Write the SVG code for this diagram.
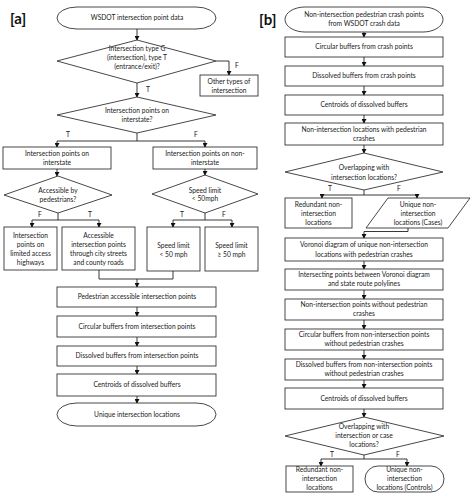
<svg xmlns="http://www.w3.org/2000/svg" width="474" height="495" viewBox="0 0 474 495">
<defs>
<marker id="ah" markerWidth="5" markerHeight="5" refX="4" refY="2.5" orient="auto" markerUnits="userSpaceOnUse">
<path d="M0,0 L4.5,2.5 L0,5 z" fill="#111"/>
</marker>
<style>
.n{fill:#fff;stroke:#333;stroke-width:0.9}
.t{font-family:Lato,"Open Sans","Liberation Sans",sans-serif;font-size:6.7px;fill:#222;text-anchor:middle}
.lb{font-family:Lato,"Open Sans","Liberation Sans",sans-serif;font-size:6.7px;fill:#222;text-anchor:middle}
.h{font-family:Lato,"Liberation Sans",sans-serif;font-size:15px;font-weight:bold;fill:#111}
.c{fill:none;stroke:#222;stroke-width:0.9}
.a{fill:none;stroke:#222;stroke-width:0.9;marker-end:url(#ah)}
</style>
</defs>
<rect width="474" height="495" fill="#fff"/>
<text class="h" x="10" y="24">[a]</text>
<text class="h" x="259" y="25">[b]</text>

<!-- Panel a nodes -->
<g id="a_start"><rect class="n" x="57" y="7" width="159" height="22" rx="20" ry="11"/><text class="t" x="137" y="20.3">WSDOT intersection point data</text></g>
<g id="a_d1"><polygon class="n" points="137,40 216,61 137,83 57,61"/><text class="t" x="137" y="51">Intersection type G</text><text class="t" x="137" y="60">(intersection), type T</text><text class="t" x="137" y="69">(entrance/exit)?</text></g>
<g id="a_other"><rect class="n" x="200" y="75" width="58" height="21"/><text class="t" x="229" y="84.3">Other types of</text><text class="t" x="229" y="92.8">intersection</text></g>
<g id="a_d2"><polygon class="n" points="137,97 216,115 137,133 57,115"/><text class="t" x="137" y="113.3">Intersection points on</text><text class="t" x="137" y="122.3">interstate?</text></g>
<g id="a_inter"><rect class="n" x="3" y="147" width="108" height="22"/><text class="t" x="57" y="155.8">Intersection points on</text><text class="t" x="57" y="164.8">interstate</text></g>
<g id="a_noninter"><rect class="n" x="153" y="147" width="104" height="22"/><text class="t" x="205" y="155.8">Intersection points on non-</text><text class="t" x="205" y="164.8">interstate</text></g>
<g id="a_d3"><polygon class="n" points="58,176 112,195 58,213 4,195"/><text class="t" x="58" y="193.3">Accessible by</text><text class="t" x="58" y="202.3">pedestrians?</text></g>
<g id="a_d4"><polygon class="n" points="205,175 258,194 205,213 152,194"/><text class="t" x="205" y="192.8">Speed limit</text><text class="t" x="205" y="201.3">&lt; 50mph</text></g>
<g id="a_limited"><rect class="n" x="4" y="227" width="53" height="43"/><text class="t" x="30.5" y="238.3">Intersection</text><text class="t" x="30.5" y="247.3">points on</text><text class="t" x="30.5" y="256.3">limited access</text><text class="t" x="30.5" y="265.3">highways</text></g>
<g id="a_access"><rect class="n" x="62" y="227" width="73" height="43"/><text class="t" x="98.5" y="238.3">Accessible</text><text class="t" x="98.5" y="247.3">intersection points</text><text class="t" x="98.5" y="256.3">through city streets</text><text class="t" x="98.5" y="265.3">and county roads</text></g>
<g id="a_sl_lt"><rect class="n" x="147" y="227" width="53" height="44"/><text class="t" x="173.5" y="247.8">Speed limit</text><text class="t" x="173.5" y="256.8">&lt; 50 mph</text></g>
<g id="a_sl_ge"><rect class="n" x="205" y="227" width="53" height="44"/><text class="t" x="231.5" y="247.8">Speed limit</text><text class="t" x="231.5" y="256.8">≥ 50 mph</text></g>
<g id="a_ped"><rect class="n" x="57" y="287" width="159" height="20"/><text class="t" x="137" y="299.3">Pedestrian accessible intersection points</text></g>
<g id="a_circ"><rect class="n" x="57" y="316" width="159" height="21"/><text class="t" x="137" y="328.8">Circular buffers from intersection points</text></g>
<g id="a_diss"><rect class="n" x="57" y="346" width="159" height="20"/><text class="t" x="137" y="358.3">Dissolved buffers from intersection points</text></g>
<g id="a_cent"><rect class="n" x="57" y="374" width="159" height="22"/><text class="t" x="137" y="387.3">Centroids of dissolved buffers</text></g>
<g id="a_end"><rect class="n" x="57" y="403" width="159" height="23" rx="20" ry="11.5"/><text class="t" x="137" y="416.8">Unique intersection locations</text></g>

<!-- Panel b nodes -->
<g id="b_start"><rect class="n" x="285" y="7" width="158" height="25" rx="20" ry="12.5"/><text class="t" x="364" y="16.5">Non-intersection pedestrian crash points</text><text class="t" x="364" y="25.5">from WSDOT crash data</text></g>
<g id="b_circ"><rect class="n" x="285" y="37" width="158" height="20"/><text class="t" x="364" y="49.3">Circular buffers from crash points</text></g>
<g id="b_diss"><rect class="n" x="285" y="66" width="158" height="20"/><text class="t" x="364" y="78.3">Dissolved buffers from crash points</text></g>
<g id="b_cent"><rect class="n" x="285" y="95" width="158" height="20"/><text class="t" x="364" y="107.3">Centroids of dissolved buffers</text></g>
<g id="b_nonint"><rect class="n" x="285" y="123" width="158" height="22"/><text class="t" x="364" y="132.3">Non-intersection locations with pedestrian</text><text class="t" x="364" y="141.3">crashes</text></g>
<g id="b_d1"><polygon class="n" points="364,153 443,172 364,190 285,172"/><text class="t" x="364" y="170">Overlapping with</text><text class="t" x="364" y="179.5">intersection locations?</text></g>
<g id="b_red1"><rect class="n" x="285" y="198" width="67" height="30"/><text class="t" x="318.5" y="207.3">Redundant non-</text><text class="t" x="318.5" y="216.3">intersection</text><text class="t" x="318.5" y="225.3">locations</text></g>
<g id="b_cases"><polygon class="n" points="388,198 470,198 448,228 366,228"/><text class="t" x="418" y="207.3">Unique non-</text><text class="t" x="418" y="216.3">intersection</text><text class="t" x="418" y="225.3">locations (Cases)</text></g>
<g id="b_voronoi"><rect class="n" x="285" y="238" width="158" height="23"/><text class="t" x="364" y="247.3">Voronoi diagram of unique non-intersection</text><text class="t" x="364" y="256.8">locations with pedestrian crashes</text></g>
<g id="b_isect"><rect class="n" x="285" y="269" width="158" height="21"/><text class="t" x="364" y="276.8">Intersecting points between Voronoi diagram</text><text class="t" x="364" y="285.8">and state route polylines</text></g>
<g id="b_nonped"><rect class="n" x="285" y="299" width="158" height="21"/><text class="t" x="364" y="306.8">Non-intersection points without pedestrian</text><text class="t" x="364" y="315.8">crashes</text></g>
<g id="b_circ2"><rect class="n" x="285" y="329" width="158" height="21"/><text class="t" x="364" y="336.8">Circular buffers from non-intersection points</text><text class="t" x="364" y="345.8">without pedestrian crashes</text></g>
<g id="b_diss2"><rect class="n" x="285" y="359" width="158" height="21"/><text class="t" x="364" y="366.8">Dissolved buffers from non-intersection points</text><text class="t" x="364" y="375.8">without pedestrian crashes</text></g>
<g id="b_cent2"><rect class="n" x="285" y="388" width="158" height="21"/><text class="t" x="364" y="400.8">Centroids of dissolved buffers</text></g>
<g id="b_d2"><polygon class="n" points="364,417 444,436 364,455 285,436"/><text class="t" x="364" y="429.3">Overlapping with</text><text class="t" x="364" y="438.3">intersection or case</text><text class="t" x="364" y="446.8">locations?</text></g>
<g id="b_red2"><rect class="n" x="286" y="466" width="67" height="26"/><text class="t" x="319.5" y="471.8">Redundant non-</text><text class="t" x="319.5" y="480.8">intersection</text><text class="t" x="319.5" y="489.8">locations</text></g>
<g id="b_controls"><rect class="n" x="365" y="466" width="79" height="26" rx="13" ry="13"/><text class="t" x="404.5" y="471.8">Unique non-</text><text class="t" x="404.5" y="480.8">intersection</text><text class="t" x="404.5" y="489.8">locations (Controls)</text></g>

<!-- Connectors -->
<g id="connectors">
<path class="a" d="M137,29 V40"/>
<path class="a" d="M216,61 H229 V75"/>
<path class="a" d="M137,83 V97"/>
<path class="c" d="M137,133 V141 M57,141 H205"/>
<path class="a" d="M57,141 V147"/>
<path class="a" d="M205,141 V147"/>
<path class="a" d="M57,169 V176"/>
<path class="a" d="M205,169 V175"/>
<path class="c" d="M58,213 V220 M32,220 H99"/>
<path class="a" d="M32,220 V227"/>
<path class="a" d="M99,220 V227"/>
<path class="c" d="M205,213 V220 M173,220 H232"/>
<path class="a" d="M173,220 V227"/>
<path class="a" d="M232,220 V227"/>
<path class="c" d="M99,270 V279 H173 V271"/>
<path class="a" d="M137,279 V287"/>
<path class="a" d="M137,307 V316"/>
<path class="a" d="M137,337 V346"/>
<path class="a" d="M137,366 V374"/>
<path class="a" d="M137,396 V403"/>

<path class="a" d="M364,32 V37"/>
<path class="a" d="M364,57 V66"/>
<path class="a" d="M364,86 V95"/>
<path class="a" d="M364,115 V123"/>
<path class="a" d="M364,145 V153"/>
<path class="c" d="M364,190 V195 M322,195 H417"/>
<path class="a" d="M322,195 V198"/>
<path class="a" d="M417,195 V198"/>
<path class="a" d="M408,228 V231.5 H364 V238"/>
<path class="a" d="M364,261 V269"/>
<path class="a" d="M364,290 V299"/>
<path class="a" d="M364,320 V329"/>
<path class="a" d="M364,350 V359"/>
<path class="a" d="M364,380 V388"/>
<path class="a" d="M364,409 V417"/>
<path class="c" d="M364,455 V459 M321,459 H407"/>
<path class="a" d="M321,459 V466"/>
<path class="a" d="M407,459 V466"/>

<text class="lb" x="237" y="68">F</text>
<text class="lb" x="148" y="92">T</text>
<text class="lb" x="68" y="137">T</text>
<text class="lb" x="196" y="137">F</text>
<text class="lb" x="40" y="217">F</text>
<text class="lb" x="90" y="217">T</text>
<text class="lb" x="182" y="217">T</text>
<text class="lb" x="224" y="217">F</text>
<text class="lb" x="330" y="190.5">T</text>
<text class="lb" x="399" y="190.5">F</text>
<text class="lb" x="332" y="456.5">T</text>
<text class="lb" x="398" y="456.5">F</text>
</g>
</svg>
